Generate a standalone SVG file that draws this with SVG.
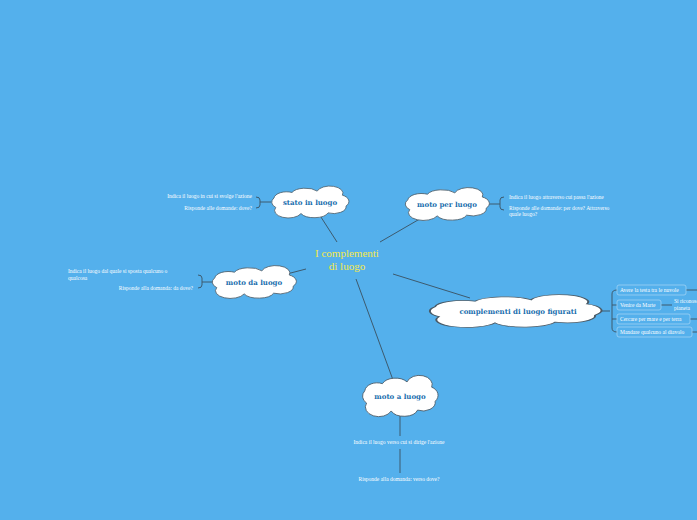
<svg xmlns="http://www.w3.org/2000/svg" width="697" height="520" viewBox="0 0 697 520">
<style>
.cl{fill:#fff;stroke:#4a5a66;stroke-width:1;vector-effect:non-scaling-stroke}
.lb{font-family:"DejaVu Serif",serif;font-size:7px;font-weight:bold;fill:#1b6fae;text-anchor:middle}
.t{font-family:"Liberation Serif",serif;font-size:5.5px;fill:#fff}
.r{text-anchor:end}
.c{text-anchor:middle}
.ln{stroke:#3d5a6e;stroke-width:1;fill:none}
.bx{fill:none;stroke:#9fd2f5;stroke-width:0.8}
</style>
<defs>
<path id="cloud" d="M -38,8 A 12,10 0 0 1 -40,-6 A 14,10 0 0 1 -20,-14 A 16,10 0 0 1 8,-16 A 14,10 0 0 1 36,-10 A 12,10 0 0 1 40,6 A 14,10 0 0 1 20,16 A 16,10 0 0 1 -10,17 A 14,10 0 0 1 -38,8 Z"/>
</defs>
<rect width="697" height="520" fill="#54b0ec"/>
<g id="connectors">
<path class="ln" d="M337,242 L319,214 M380,242 L430,213 M306,269 L283,275 M393,274 L470,298 M356,279 L393,380"/>
<path class="ln" d="M271,202 H260 M256,197 Q260,197 260,200 V205 Q260,208 256,208"/>
<path class="ln" d="M488,204 H500 M504,197 Q500,197 500,200 V207 Q500,210 504,210"/>
<path class="ln" d="M212,282 H202 M198,275 Q202,275 202,278 V285 Q202,288 198,288"/>
<path class="ln" d="M600,311 H610 M617,290 Q612,290 612,294 V328 Q612,332 617,332 M612,305 H617 M612,319 H617"/>
<path class="ln" d="M686,290 H697 M661,305 H672 M690,319 H697 M692,332 H697"/>
<path class="ln" d="M400,412 V436 M400,449 V473"/>
</g>
<g id="center"><text x="347" y="257" font-family="Liberation Serif,serif" font-size="11" fill="#f5e94a" text-anchor="middle">I complementi</text><text x="347" y="270" font-family="Liberation Serif,serif" font-size="11" fill="#f5e94a" text-anchor="middle">di luogo</text></g>
<g id="stato"><use href="#cloud" class="cl" transform="translate(310,202) scale(0.9,0.68)"/><text class="lb" x="310" y="205">stato in luogo</text>
<text class="t r" x="252" y="198">Indica il luogo in cui si svolge l'azione</text><text class="t r" x="252" y="210">Risponde alle domande: dove?</text></g>
<g id="perluogo"><use href="#cloud" class="cl" transform="translate(447,204) scale(0.98,0.7)"/><text class="lb" x="447" y="207">moto per luogo</text>
<text class="t" x="509" y="199">Indica il luogo attraverso cui passa l'azione</text><text class="t" x="509" y="210">Risponde alle domande: per dove? Attraverso</text><text class="t" x="509" y="216">quale luogo?</text></g>
<g id="daluogo"><use href="#cloud" class="cl" transform="translate(254,282) scale(0.98,0.7)"/><text class="lb" x="254" y="285">moto da luogo</text>
<text class="t" x="68" y="273">Indica il luogo dal quale si sposta qualcuno o</text><text class="t" x="68" y="280">qualcosa</text><text class="t r" x="193" y="290">Risponde alla domanda: da dove?</text></g>
<g id="figurati"><use href="#cloud" class="cl" transform="translate(515,311) scale(2.0,0.7)"/><text class="lb" x="518" y="314">complementi di luogo figurati</text>
<rect class="bx" x="617" y="285" width="69" height="10" rx="2"/><text class="t" x="620" y="292">Avere la testa tra le nuvole</text>
<rect class="bx" x="617" y="300" width="44" height="10" rx="2"/><text class="t" x="620" y="307">Venire da Marte</text>
<text class="t" x="674" y="303">Si riconosce per</text><text class="t" x="674" y="310">pianeta</text>
<rect class="bx" x="617" y="314" width="73" height="10" rx="2"/><text class="t" x="620" y="321">Cercare per mare e per terra</text>
<rect class="bx" x="617" y="327" width="75" height="10" rx="2"/><text class="t" x="620" y="334">Mandare qualcuno al diavolo</text></g>
<g id="aluogo"><use href="#cloud" class="cl" transform="translate(400,396) scale(0.88,0.88)"/><text class="lb" x="400" y="399">moto a luogo</text>
<text class="t c" x="399" y="444">Indica il luogo verso cui si dirige l'azione</text><text class="t c" x="399" y="481">Risponde alla domanda: verso dove?</text></g>
</svg>
